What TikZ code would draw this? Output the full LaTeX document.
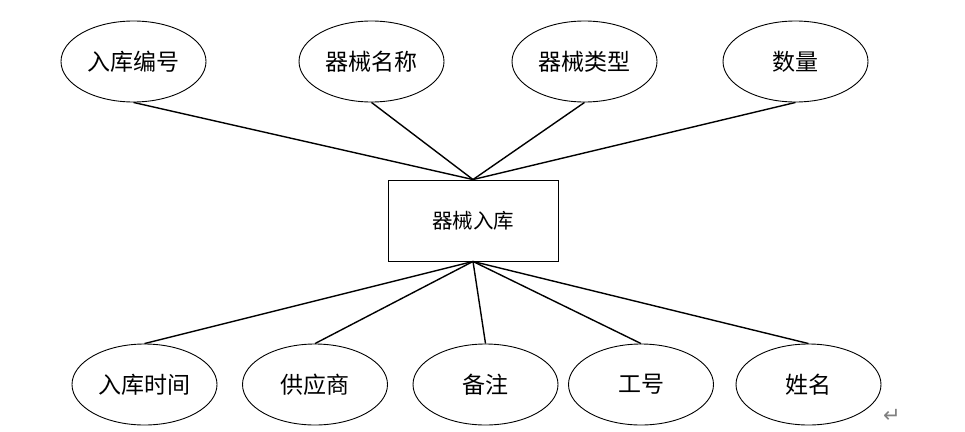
\documentclass[tikz,border=0pt]{standalone}
\usepackage{fontspec}
\newfontfamily\cjk{Noto Sans CJK SC}
\newfontfamily\symfont{DejaVu Sans}
\usepackage{tikz}
\usetikzlibrary{shapes.geometric}

\begin{document}
\begin{tikzpicture}[
    x=1pt, y=-1pt,
    font=\cjk,
    attr/.style={draw=black, line width=0.9pt, ellipse, minimum width=145pt, minimum height=81pt,
        inner sep=0pt, font=\cjk\fontsize{23}{23}\selectfont},
    entity/.style={draw=black, line width=0.9pt, rectangle, minimum width=170pt, minimum height=81pt,
        inner sep=0pt, font=\cjk\fontsize{20.5}{20.5}\selectfont},
    link/.style={black, line width=1.4pt}
]
\useasboundingbox (0,0) rectangle (965,431);

% Entity
\node[entity] (stockin) at (473,220.5) {器械入库};

% Top attributes
\node[attr] (inno)   at (133.5,61.5) {入库编号};
\node[attr] (dname)  at (371.5,61.5) {器械名称};
\node[attr] (dtype)  at (584.5,61.5) {器械类型};
\node[attr] (amount) at (795.5,61.5) {数量};

% Bottom attributes
\node[attr] (intime)   at (144.5,384.5) {入库时间};
\node[attr] (supplier) at (315,384.5)   {供应商};
\node[attr] (remark)   at (485.5,384.5) {备注};
\node[attr] (staffno)  at (641,384.5)   {工号};
\node[attr] (sname)    at (808.5,384.5) {姓名};

% Links
\foreach \a in {inno, dname, dtype, amount}
    \draw[link] (\a.south) -- (stockin.north);
\foreach \a in {intime, supplier, remark, staffno, sname}
    \draw[link] (stockin.south) -- (\a.north);

% Paragraph mark
\node[font=\symfont\fontsize{21}{21}\selectfont, text=gray] (pmark) at (892,416) {↵};

\end{tikzpicture}
\end{document}
